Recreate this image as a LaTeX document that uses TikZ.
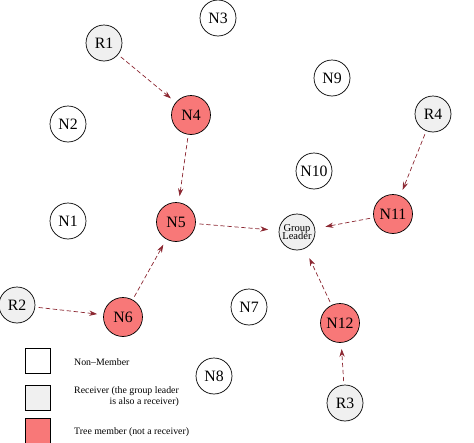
\documentclass[tikz,border=0pt]{standalone}
\usepackage{fontspec}
\setmainfont{Liberation Serif}
\usetikzlibrary{arrows.meta}
\definecolor{treered}{RGB}{248,120,120}
\definecolor{recvgray}{RGB}{240,240,240}
\definecolor{linkred}{RGB}{140,40,50}
\begin{document}
\begin{tikzpicture}[x=0.02cm,y=-0.02cm,
	nonmember/.style={circle,draw,minimum size=0.72cm,inner sep=0pt,font=\fontsize{9}{9}\selectfont},
	receiver/.style={nonmember,fill=recvgray},
	treemember/.style={nonmember,fill=treered,minimum size=0.78cm},
	link/.style={draw=linkred,dash pattern=on 2.5pt off 1.5pt,-{Stealth[length=4.5pt,width=3pt]},shorten <=2pt,shorten >=3.5pt},
	tolead/.style={link,shorten >=6pt},
	legbox/.style={draw,minimum size=0.5cm,inner sep=0pt},
	legtext/.style={anchor=west,font=\fontsize{5.6}{6.4}\selectfont}]
	\useasboundingbox (0,0) rectangle (474,443);
	
	%Non-Members
	\node[nonmember] (N3) at (218,18) {N3};
	\node[nonmember] (N9) at (332,78) {N9};
	\node[nonmember] (N2) at (68,124) {N2};
	\node[nonmember] (N10) at (314,171) {N10};
	\node[nonmember] (N1) at (68,221) {N1};
	\node[nonmember] (N7) at (249,307) {N7};
	\node[nonmember] (N8) at (214,376) {N8};
	
	%Receivers
	\node[receiver] (R1) at (104,43) {R1};
	\node[receiver] (R4) at (433,114) {R4};
	\node[receiver] (R2) at (17,305) {R2};
	\node[receiver] (R3) at (345,403) {R3};
	\node[receiver,font=\fontsize{6}{6}\selectfont,align=center] (GL) at (297,232) {Group\\[-1pt]Leader};
	
	%Tree members
	\node[treemember] (N4) at (191,115) {N4};
	\node[treemember] (N5) at (176,222) {N5};
	\node[treemember] (N6) at (123,317) {N6};
	\node[treemember] (N11) at (393,214) {N11};
	\node[treemember] (N12) at (340,323) {N12};
	
	%Tree
	\draw[link] (R1) -- (N4);
	\draw[link] (N4) -- (N5);
	\draw[link] (R2) -- (N6);
	\draw[link] (N6) -- (N5);
	\draw[link] (R4) -- (N11);
	\draw[link] (R3) -- (N12);
	\draw[tolead] (N5) -- (GL);
	\draw[tolead] (N11) -- (GL);
	\draw[tolead] (N12) -- (GL);
	
	%Legend
	\node[legbox] (L1) at (37.5,360.5) {};
	\node[legbox,fill=recvgray] (L2) at (37.5,397.5) {};
	\node[legbox,fill=treered] (L3) at (37.5,430.5) {};
	\node[legtext] (T1) at (68,362) {Non--Member};
	\node[legtext,align=right] (T2) at (68,397) {Receiver (the group leader\\is also a receiver)};
	\node[legtext] (T3) at (68,432) {Tree member (not a receiver)};
\end{tikzpicture}
\end{document}
